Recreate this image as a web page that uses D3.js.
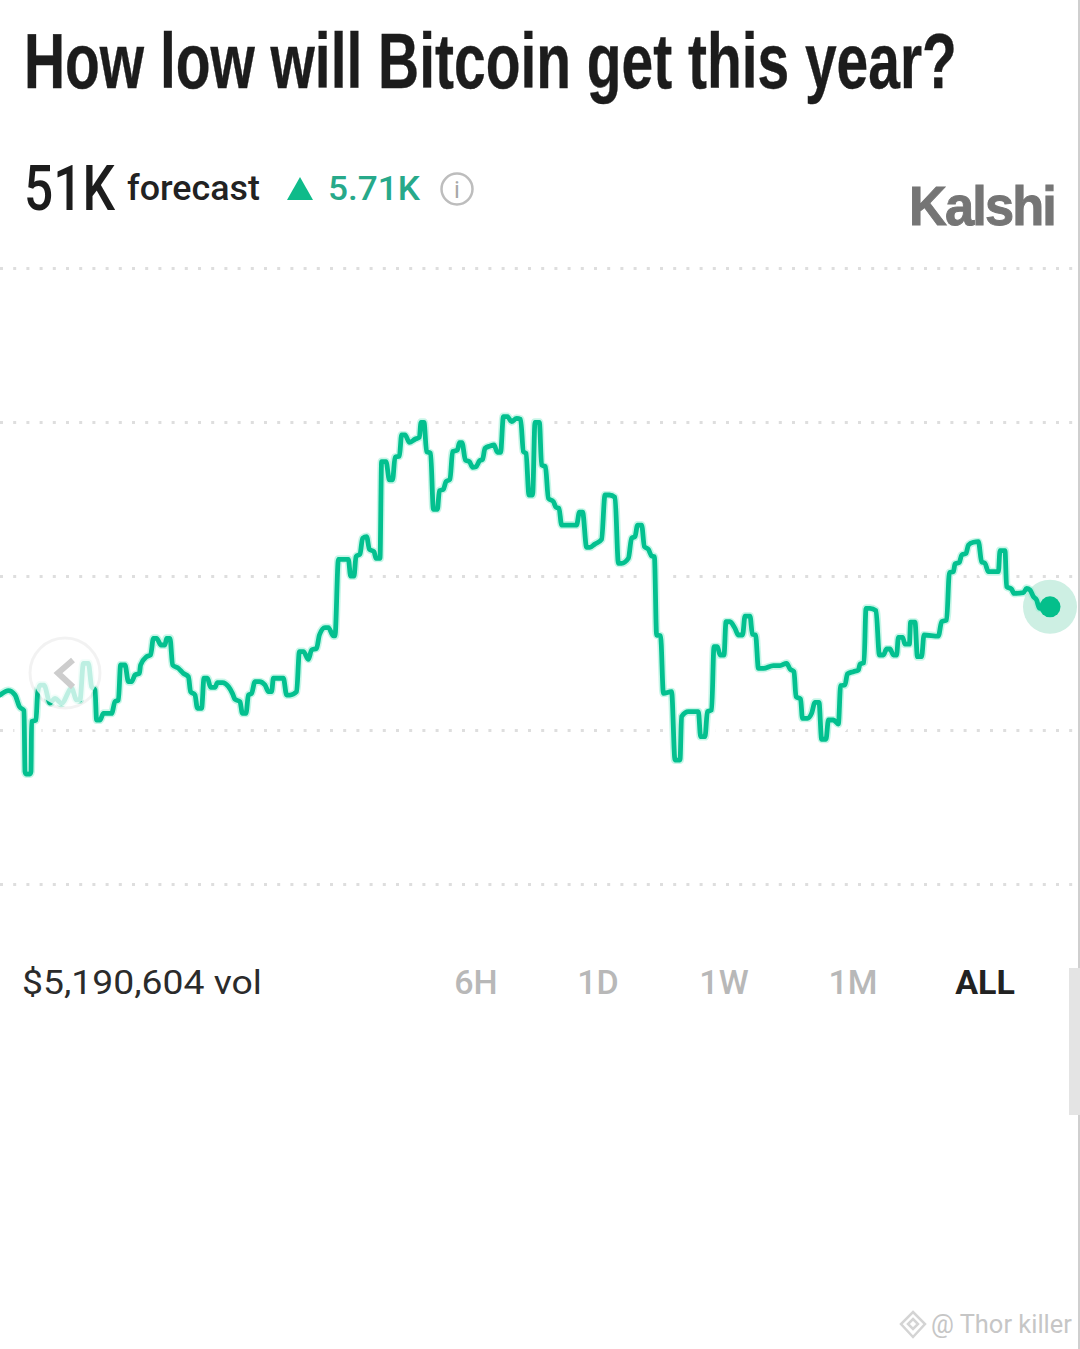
<!DOCTYPE html>
<html>
<head>
<meta charset="utf-8">
<script src="https://cdn.jsdelivr.net/npm/d3@7"></script>
<style>
  html, body { margin: 0; padding: 0; background: #fff; }
  svg { display: block; }
  text { font-family: "Liberation Sans", sans-serif; }
</style>
</head>
<body>
<svg id="mysvg" width="1080" height="1349"></svg>
<script>
// forecast in thousands, time in chart steps
var times = [0,4.2,7.5,9.7,12,12.5,13,15,15.5,15.8,18,18.8,20,22,25,27.5,30.8,35.8,38.3,40,41.7,44.2,45.8,47.5,48.3,50,51.7,55.8,57.5,59.2,60.3,62.5,64.2,65.8,67.5,69.7,70.3,73.3,75.3,76.7,78.3,80.5,82.5,83.3,85,86.3,89.2,91.7,94.2,95.3,97.5,98.7,100.8,102,103.7,105.3,107.5,108.7,111.3,114.2,116.2,117.5,120,121.2,123,124.2,125.8,127.5,129.7,132.5,134.2,135.8,136.7,141.7,143.3,145,148.3,149.7,151.7,154.2,155.8,158.3,159.7,162.5,164.2,166.7,167.5,169.2,174.2,175.3,177,178,
  180,181.3,183.3,184.7,187,188,190,190.8,193,194.7,196.3,197.5,199.7,200.8,202.5,204.7,207.5,209.7,210.5,212,213.3,215.3,216.7,218.7,219.7,221.7,223,225,226.3,228.7,229.7,231,232.7,234.7,236.3,238,239.7,241.3,242.5,245,247,248.7,250.3,251.7,253.7,255.8,258.3,260.3,261.7,263,264.5,266.3,267.5,269.7,270.8,272.7,274.2,276.7,278,279.5,280.8,288.3,289.7,291.3,293.3,295,297.5,300.8,302.5,304.7,307.5,309.2,310.8,314.2,315.8,317.5,318.8,320.8,322.2,324.2,325.8,327.2,328.3,330.3,331.7,335.8,337.5,340,340.8,344.2,349.2,350.3,352.5,353.7,355.8,357,358.7,
  360,362,363,365,367.5,369.2,371.3,372.5,375,376.2,377.8,379.2,381.7,386.7,390,393.3,395,397,398,400.3,401.2,403.7,405.8,407.5,409.5,410.8,413,414.2,416.7,419.2,420.3,422.5,423.7,426.7,429.2,430,432,433,435,438,439.7,441.7,443.3,445,446.7,448.3,449.2,451.3,452.5,454.7,455.3,457.5,458.7,460.8,462,469.2,470.8,473.3,474.7,476.7,477.5,479.7,480.8,483,484.2,486.7,489.2,490.8,492.5,494.2,499.2,500,502.5,503.3,505.8,507,511.7,513.3,515,516.7,518.3,519.7,522.5,525];
var forecast = [45.27,45.56,45.27,44.52,44.26,40.30,40.14,40.14,40.30,43.54,43.65,45.38,45.92,45.92,44.75,45.06,44.73,45.71,44.95,44.95,47.33,47.33,45.82,45.60,43.65,43.65,44.08,44.08,44.84,44.95,47.22,47.22,46.14,46.14,46.57,46.68,47.22,47.76,47.87,48.95,48.95,48.52,48.52,48.95,48.95,47.22,47.01,46.68,46.46,45.49,45.27,44.41,44.41,46.36,46.36,45.77,45.77,46.08,46.08,45.82,45.38,44.99,44.84,44.08,44.08,45.27,45.38,46.14,46.14,45.92,45.49,45.49,46.36,46.36,45.27,45.27,45.49,48.09,48.09,47.59,48.20,48.30,49.17,49.65,49.65,49.11,49.11,54.08,54.08,53.00,53.00,54.26,
  54.43,55.45,55.56,54.73,54.58,54.15,54.15,60.43,60.43,59.24,59.24,60.71,60.79,62.16,62.16,61.68,61.88,62.01,62.98,62.98,61.08,60.97,57.33,57.33,58.54,58.63,59.13,59.28,61.08,61.18,61.66,61.66,60.53,60.43,60.06,60.10,60.47,60.58,61.29,61.44,61.51,61.03,61.03,63.35,63.35,63.02,63.24,63.17,61.08,60.97,58.26,58.26,62.98,62.98,60.21,60.10,58.04,57.83,57.46,57.40,56.31,56.31,57.14,57.14,54.86,54.86,55.08,55.38,58.26,58.26,58.11,53.82,53.82,54.15,55.45,55.56,56.31,56.31,54.91,54.73,54.30,54.26,49.17,49.11,45.38,45.49,41.05,41.05,43.87,44.19,44.19,42.57,42.57,44.19,44.30,48.41,48.41,
  47.87,47.87,50.03,50.03,49.60,49.17,49.17,50.40,50.40,49.21,49.17,47.00,47.00,47.18,47.18,47.33,46.96,46.79,45.17,45.01,43.76,43.76,44.08,44.80,44.80,42.40,42.40,43.65,43.65,43.39,45.88,45.92,46.64,46.79,46.90,47.29,47.37,50.90,50.90,50.75,47.87,47.87,48.26,48.26,47.87,47.87,49.02,49.02,48.57,48.57,50.00,50.00,47.76,47.76,49.17,49.10,50.03,50.14,53.22,53.28,53.78,53.89,54.36,54.47,55.01,55.19,55.23,53.93,53.82,53.28,53.28,54.65,54.65,52.31,52.14,51.87,51.92,52.20,52.09,51.66,51.44,50.90,51.00];
var gridTicks = [33, 43, 53, 63, 73];
var ranges = ["6H", "1D", "1W", "1M", "ALL"];
var activeRange = "ALL";

var green = "#03c08f";
var svg = d3.select("#mysvg");

// squeeze a text to the width it has in the picture
function label(txt, x, y, width, font, size, weight, color, spacing) {
  var t = svg.append("text").text(txt)
    .style("font-family", font).style("font-size", size + "px").style("font-weight", weight)
    .style("letter-spacing", (spacing || 0) + "px")
    .attr("fill", color);
  var natural = t.node().getComputedTextLength();
  t.attr("transform", "translate(" + x + "," + y + ") scale(" + (width / natural) + ",1)");
  return t;
}

// scales, 10K between grid lines
var xScale = d3.scaleLinear().domain([0, 540]).range([0, 1080]);
var yScale = d3.scaleLinear().domain([33, 73]).range([884, 268]);

// dotted grid lines
var grid = svg.append("g")
  .call(d3.axisLeft(yScale).tickValues(gridTicks).tickSize(-1080).tickFormat(""));
grid.select(".domain").remove();
grid.selectAll("line")
  .attr("stroke", "#dedede")
  .attr("stroke-width", 3)
  .attr("stroke-dasharray", "3 10.2");

var line = d3.line()
  .x(function (d, i) { return xScale(times[i]); })
  .y(function (d) { return yScale(d); })
  .curve(d3.curveMonotoneX);

// last point halo goes under the line
var lastX = xScale(times[times.length - 1]);
var lastY = yScale(forecast[forecast.length - 1]);

// white halo, the grid stops just before it reaches the line
svg.append("path").attr("d", line(forecast))
  .attr("fill", "none").attr("stroke", "#fff").attr("stroke-width", 20)
  .attr("stroke-linejoin", "round");
svg.append("circle").attr("cx", lastX).attr("cy", lastY).attr("r", 27).attr("fill", "#cdefe3");
// soft glow
svg.append("path").attr("d", line(forecast))
  .attr("fill", "none").attr("stroke", "#9befd6").attr("stroke-width", 8)
  .attr("stroke-linejoin", "round").attr("stroke-opacity", 0.55);
svg.append("path").attr("d", line(forecast))
  .attr("fill", "none").attr("stroke", green).attr("stroke-width", 4.8)
  .attr("stroke-linejoin", "round").attr("stroke-linecap", "round");
svg.append("circle").attr("cx", lastX).attr("cy", lastY).attr("r", 10.5).attr("fill", "#04bf8b");

// back button laid over the line
svg.append("circle").attr("cx", 65).attr("cy", 673).attr("r", 35)
  .attr("fill", "none").attr("stroke", "#000").attr("stroke-opacity", 0.05).attr("stroke-width", 3);
svg.append("circle").attr("cx", 65).attr("cy", 673).attr("r", 33)
  .attr("fill", "#fff").attr("fill-opacity", 0.74);
svg.append("path").attr("d", "M73,660L58,673L73,687")
  .attr("fill", "none").attr("stroke", "#cdcdcd").attr("stroke-width", 6);

// title and header
var narrow = "'Liberation Sans Narrow', 'Liberation Sans', sans-serif";
label("How low will Bitcoin get this year?", 24, 88, 933, narrow, 78, 700, "#1c1c1c")
  .attr("stroke", "#1c1c1c").attr("stroke-width", 0.4);
label("51K", 24, 210, 91, "Roboto, sans-serif", 63, 500, "#1c1c1c");
label("forecast", 127, 200, 133, "Roboto, sans-serif", 35, 500, "#222");
svg.append("path").attr("d", "M300,177L313,200L287,200Z").attr("fill", "#0fbb8a");
label("5.71K", 328, 200, 92, "Roboto, sans-serif", 34, 500, "#27a98a");
svg.append("circle").attr("cx", 457).attr("cy", 189).attr("r", 15.5)
  .attr("fill", "none").attr("stroke", "#bdbdbd").attr("stroke-width", 2.5);
svg.append("text").attr("x", 457).attr("y", 198).attr("text-anchor", "middle").text("i")
  .style("font-family", "Roboto, sans-serif").style("font-size", "24px").attr("fill", "#a8a8a8");
label("Kalshi", 909, 225, 146, "'Liberation Sans', sans-serif", 56, 700, "#757575", -2)
  .attr("stroke", "#757575").attr("stroke-width", 1);

// footer row
label("$5,190,604 vol", 22, 994, 240, "Roboto, sans-serif", 34, 400, "#2b2b2b");
var rangeScale = d3.scaleOrdinal().domain(ranges).range([476, 598, 724, 853, 985]);
svg.selectAll(".range").data(ranges).enter().append("text")
  .attr("class", "range")
  .attr("x", function (d) { return rangeScale(d); })
  .attr("y", 994)
  .attr("text-anchor", "middle")
  .text(function (d) { return d; })
  .style("font-family", "Roboto, sans-serif")
  .style("font-size", "34px")
  .style("font-weight", function (d) { return d === activeRange ? 700 : 500; })
  .attr("fill", function (d) { return d === activeRange ? "#222" : "#b8b8b8"; });

// page edge and scrollbar from the screenshot
svg.append("rect").attr("x", 1078).attr("y", 0).attr("width", 2).attr("height", 1349).attr("fill", "#cfcfcf");
svg.append("rect").attr("x", 1069).attr("y", 968).attr("width", 11).attr("height", 147).attr("fill", "#e4e4e4");

// watermark
var mark = svg.append("g").attr("fill", "none").attr("stroke", "#d4d4d4").attr("stroke-width", 2.5);
mark.append("path").attr("d", "M913,1312L925,1324L913,1337L901,1324Z");
mark.append("path").attr("d", "M913,1319L918,1324L913,1329L908,1324Z");
label("@ Thor killer", 931, 1333, 141, "Roboto, sans-serif", 26, 400, "#c6c6c6");
</script>
</body>
</html>
